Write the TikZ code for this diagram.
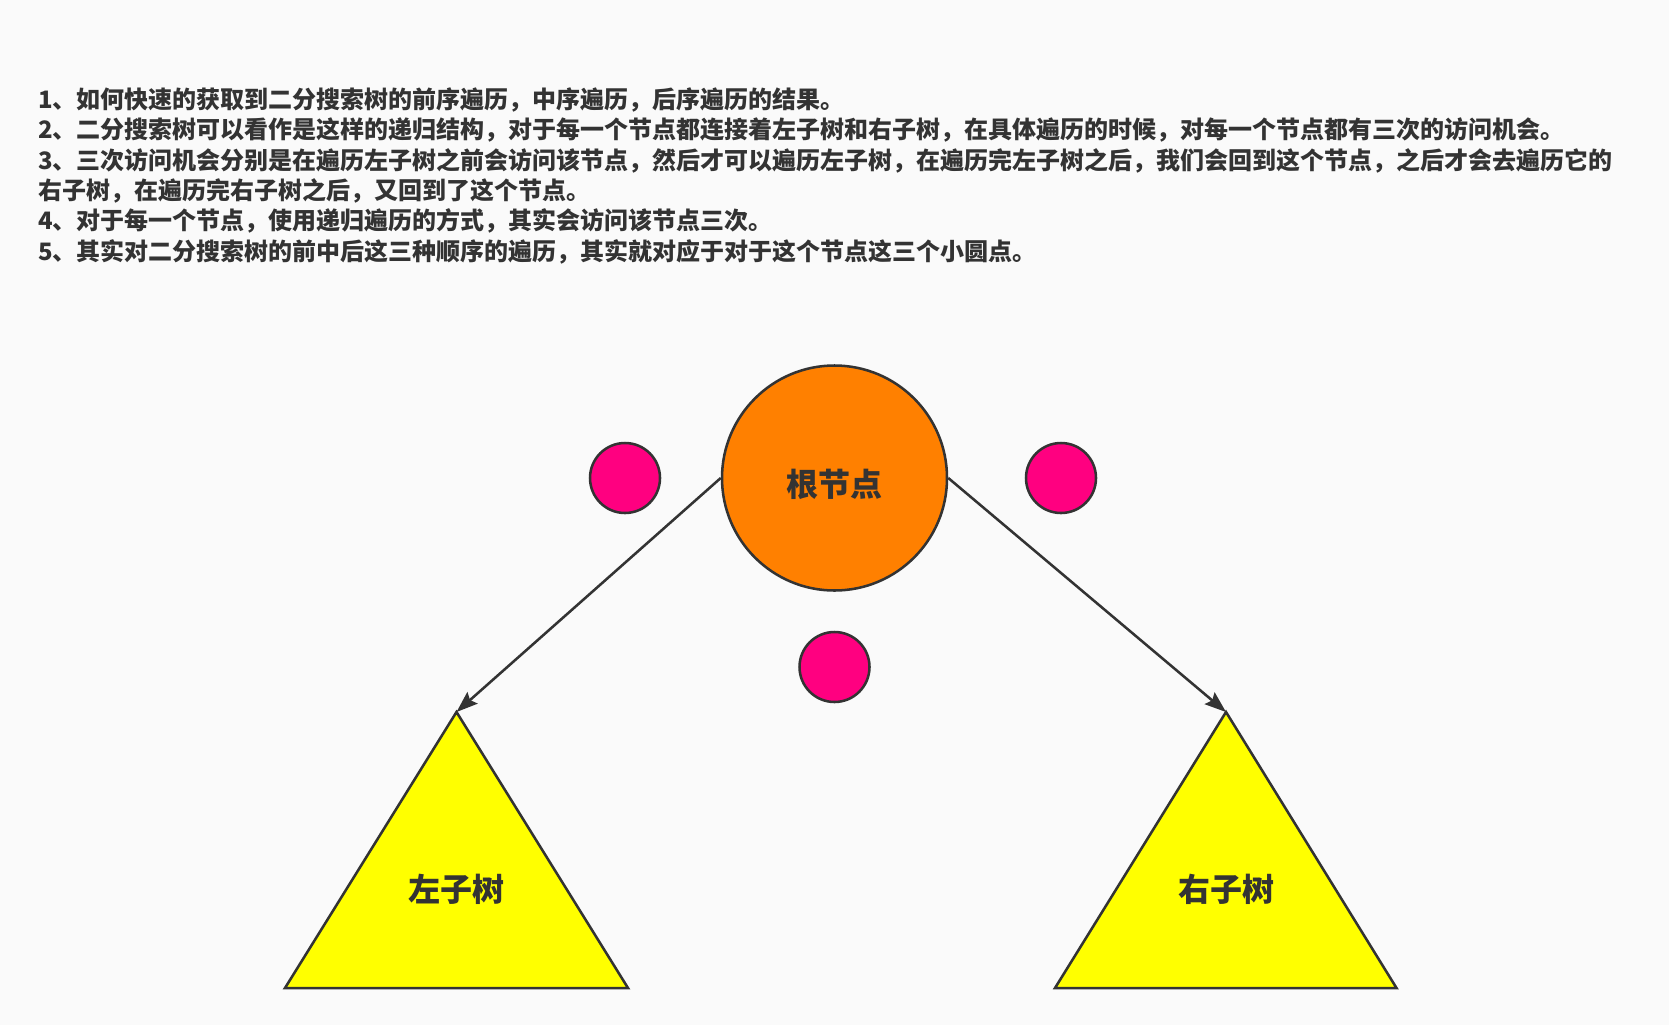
\documentclass[tikz,border=0pt]{standalone}
\usepackage{fontspec}
\setmainfont{Noto Sans CJK SC}
\usetikzlibrary{arrows.meta}
\definecolor{bg}{HTML}{FAFAFA}
\definecolor{ink}{HTML}{333333}
\definecolor{rootc}{HTML}{FF8000}
\definecolor{dotc}{HTML}{FF0080}
\definecolor{treec}{HTML}{FFFF00}
\tikzset{
  para/.style={anchor=base west, inner sep=0pt, text=ink, font=\fontsize{18pt}{22pt}\selectfont\bfseries},
  rootnode/.style={circle, draw=ink, line width=1.9pt, fill=rootc, minimum size=168.75pt, inner sep=0pt, text=ink, font=\fontsize{24pt}{28pt}\selectfont\bfseries},
  dotnode/.style={circle, draw=ink, line width=1.9pt, fill=dotc, minimum size=52.5pt, inner sep=0pt},
  treeshape/.style={draw=ink, line width=1.9pt, fill=treec, line join=miter},
  treelabel/.style={inner sep=0pt, text=ink, font=\fontsize{24pt}{28pt}\selectfont\bfseries},
  arr/.style={draw=ink, line width=1.9pt, -{Stealth[length=16pt,width=11.5pt,inset=2.5pt]}}
}
\begin{document}
\begin{tikzpicture}[x=0.75pt,y=-0.75pt]
\fill[bg] (0,0) rectangle (1669,1025);
\useasboundingbox (0,0) rectangle (1669,1025);

\node[para] (p1) at (38,108) {1、如何快速的获取到二分搜索树的前序遍历，中序遍历，后序遍历的结果。};
\node[para] (p2) at (38,138.5) {2、二分搜索树可以看作是这样的递归结构，对于每一个节点都连接着左子树和右子树，在具体遍历的时候，对每一个节点都有三次的访问机会。};
\node[para] (p3) at (38,169) {3、三次访问机会分别是在遍历左子树之前会访问该节点，然后才可以遍历左子树，在遍历完左子树之后，我们会回到这个节点，之后才会去遍历它的};
\node[para] (p3b) at (38,199) {右子树，在遍历完右子树之后，又回到了这个节点。};
\node[para] (p4) at (38,229.5) {4、对于每一个节点，使用递归遍历的方式，其实会访问该节点三次。};
\node[para] (p5) at (38,260) {5、其实对二分搜索树的前中后这三种顺序的遍历，其实就对应于对于这个节点这三个小圆点。};

\node[rootnode] (root) at (834.5,478) {};
\node[treelabel] (rootlabel) at (834.5,484) {根节点};
\node[dotnode] (d1) at (625,478) {};
\node[dotnode] (d2) at (1061,478) {};
\node[dotnode] (d3) at (834.5,667) {};

\coordinate (lta) at (456.5,712);
\coordinate (ltl) at (285,988);
\coordinate (ltr) at (628,988);
\coordinate (rta) at (1226,712);
\coordinate (rtl) at (1055,988);
\coordinate (rtr) at (1396.5,988);
\draw[treeshape] (lta) -- (ltr) -- (ltl) -- cycle;
\draw[treeshape] (rta) -- (rtr) -- (rtl) -- cycle;
\node[treelabel] (ll) at (456.5,889) {左子树};
\node[treelabel] (rl) at (1226,889) {右子树};

\draw[arr] (root.west) -- (lta);
\draw[arr] (root.east) -- (rta);
\end{tikzpicture}
\end{document}
